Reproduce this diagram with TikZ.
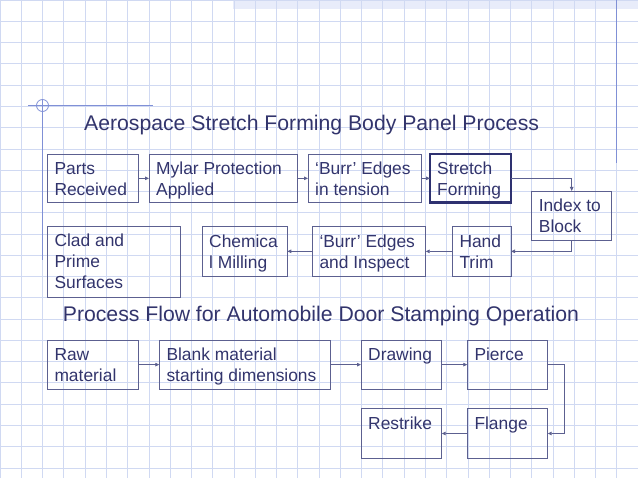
\documentclass[tikz,border=0pt]{standalone}
\usepackage{fontspec}
\setmainfont{Liberation Sans}
\usetikzlibrary{arrows.meta}
\definecolor{gridc}{RGB}{208,217,242}
\definecolor{bandc}{RGB}{232,236,250}
\definecolor{decoc}{RGB}{128,144,214}
\definecolor{txtc}{RGB}{50,52,108}
\definecolor{boxc}{RGB}{92,96,144}
\definecolor{thickc}{RGB}{46,49,112}
\tikzset{
  box/.style={draw=boxc, line width=0.9pt, rectangle, inner sep=0pt, outer sep=0pt},
  thickbox/.style={box, draw=thickc, line width=2.4pt},
  txt/.style={anchor=base west, inner sep=0pt, text=txtc,
    font=\fontsize{17.4}{20.7}\selectfont},
  title/.style={anchor=base west, inner sep=0pt, text=txtc,
    font=\fontsize{21.2}{25}\selectfont},
  flow/.style={draw=boxc, line width=0.8pt, -{Triangle[length=4pt,width=3.5pt]}},
  deco/.style={draw=decoc, line width=0.8pt}
}
\newcommand\procbox[7][box]{%
  \node[#1, minimum width=#5pt, minimum height=#6pt, anchor=north west] (#2) at (#3,#4) {};
  \node[txt] (#2t) at ([xshift=7pt,yshift=-21pt]#2.north west) {\begin{tabular}[t]{@{}l@{}}#7\end{tabular}};%
}
\begin{document}
\begin{tikzpicture}[x=1pt,y=-1pt]
\useasboundingbox (0,0) rectangle (638,478);
% background band
\fill[bandc] (233,0) rectangle (638,9);
% grid
\foreach \k in {0,...,30} \draw[gridc, line width=0.7pt] ({\k*21.267},0) -- ({\k*21.267},478);
\foreach \k in {0,...,22} \draw[gridc, line width=0.7pt] (0,{\k*21.267}) -- (638,{\k*21.267});
% decorations
\draw[deco] (42.5,100) -- (42.5,260);
\draw[deco] (28,105.5) -- (153,105.5);
\draw[deco] (42.5,105.5) circle (6);
\draw[deco] (616.7,0) -- (616.7,163);
% titles
\node[title] (t1) at (84,130.7) {Aerospace Stretch Forming Body Panel Process};
\node[title] (t2) at (62.7,321.7) {Process Flow for Automobile Door Stamping Operation};
% row 1
\procbox{parts}{47.3}{154}{91.4}{48.7}{Parts\\Received}
\procbox{mylar}{149}{154}{148.7}{48.7}{Mylar Protection\\Applied}
\procbox{burra}{308}{154}{113}{48.7}{‘Burr’ Edges\\in tension}
\procbox[thickbox]{stretch}{430}{154}{81}{48.7}{Stretch\\Forming}
\procbox{index}{531.7}{191}{80}{49.7}{Index to\\Block}
% row 2
\procbox{hand}{452.3}{226.7}{58.7}{49.3}{Hand\\Trim}
\procbox{burrb}{312.3}{226.7}{113.4}{49.3}{‘Burr’ Edges\\and Inspect}
\procbox{chem}{202}{226.7}{85.3}{49.3}{Chemica\\l Milling}
\procbox{clad}{47.3}{226}{133.4}{71}{Clad and\\Prime\\Surfaces}
% row 3
\procbox{raw}{47.3}{340}{91.4}{49.3}{Raw\\material}
\procbox{blank}{159.3}{340}{170.7}{49.3}{Blank material\\starting dimensions}
\procbox{drawing}{361}{340}{80.7}{49.3}{Drawing}
\procbox{pierce}{467.3}{340}{80.4}{49.3}{Pierce}
\procbox{flange}{467.3}{408.7}{80.4}{49.6}{Flange}
\procbox{restrike}{361}{408.7}{80.7}{49.6}{Restrike}
\coordinate (pc) at (564,364.65);
% connectors
\draw[flow] (parts) -- (mylar);
\draw[flow] (mylar) -- (burra);
\draw[flow] (burra) -- (stretch);
\draw[flow] (stretch.east) -| (index.north);
\draw[flow] (index.south) |- (hand.east);
\draw[flow] (hand) -- (burrb);
\draw[flow] (burrb) -- (chem);
\draw[flow] (raw) -- (blank);
\draw[flow] (blank) -- (drawing);
\draw[flow] (drawing) -- (pierce);
\draw[flow] (pierce.east) -- (pc) |- (flange.east);
\draw[flow] (flange) -- (restrike);
\end{tikzpicture}
\end{document}
